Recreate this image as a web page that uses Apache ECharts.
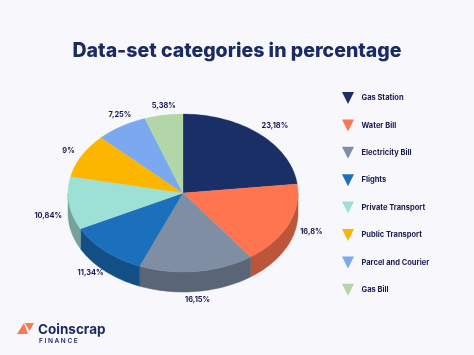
<!DOCTYPE html>
<html><head><meta charset="utf-8">
<style>html,body{margin:0;padding:0;background:#fff}#c{width:474px;height:355px}</style>
<script src="https://cdn.jsdelivr.net/npm/echarts@6/dist/echarts.min.js"></script>
</head><body><div id="c"></div>
<script>
const categories = ['Gas Station','Water Bill','Electricity Bill','Flights','Private Transport','Public Transport','Parcel and Courier','Gas Bill'];
const percentages = [23.18,16.8,16.15,11.34,10.84,9,7.25,5.38];
const tickLabels = ['23,18%','16,8%','16,15%','11,34%','10,84%','9%','7,25%','5,38%'];
const topColors = ['#1a2f66','#fe7550','#7f8ea3','#1c6fbb','#9de0d6','#fdb600','#7aa9ef','#b3d6a8'];
const sideColors = ['#12224a','#bd553a','#5a6675','#124f86','#73a39c','#b88500','#5a7bad','#83a07a'];
const labelNudge = [[0,4],[2,1],[-2,13],[1,10],[2,11],[7,3],[11,2],[4,6]];

const CX = 183, CY = 193, RX = 115, RY = 79, DEPTH = 20, INK = '#17194f';
const total = percentages.reduce((a,b)=>a+b,0);
const cum = [];
percentages.reduce((a,b,i)=>{cum[i]=[a,a+b];return a+b;},0);
const pt = (t,dy=0)=>{const a=t/total*2*Math.PI;return [CX+RX*Math.sin(a),CY-RY*Math.cos(a)+dy];};

function renderSlice(i){
  return function(params,api){
    const s=api.value(0), e=api.value(1), steps=Math.max(2,Math.ceil((e-s)*2));
    const top=[[CX,CY]];
    for(let k=0;k<=steps;k++){const t=s+(e-s)*k/steps;top.push(pt(t));}
    const fs=Math.max(s,total/4), fe=Math.min(e,total*3/4);
    const children=[];
    if(fe>fs){
      const wall=[];
      for(let k=0;k<=steps;k++){wall.push(pt(fs+(fe-fs)*k/steps));}
      for(let k=steps;k>=0;k--){wall.push(pt(fs+(fe-fs)*k/steps,DEPTH));}
      children.push({type:'polygon',shape:{points:wall},style:{fill:sideColors[i],stroke:sideColors[i],lineWidth:.5}});
    }
    children.push({type:'polygon',shape:{points:top},style:{fill:topColors[i],stroke:topColors[i],lineWidth:.3}});
    const m=(s+e)/2, a=m/total*2*Math.PI;
    children.push({type:'text',style:{
      x:CX+RX*1.2*Math.sin(a)+labelNudge[i][0],
      y:CY-RY*1.2*Math.cos(a)+labelNudge[i][1],
      text:tickLabels[i],fill:INK,font:'700 7.4px Inter, sans-serif',align:'center',verticalAlign:'middle'}});
    return {type:'group',children};
  };
}

const chart=echarts.init(document.getElementById('c'),null,{renderer:'canvas'});
chart.setOption({
  animation:false,
  backgroundColor:'#f8f8fc',
  title:{text:'Data-set categories in percentage',left:'center',top:36,
    textStyle:{color:'#1a2a63',fontFamily:'Inter, sans-serif',fontWeight:800,fontSize:19.5}},
  legend:{orient:'vertical',left:337,top:87,itemGap:15.4,itemWidth:13,itemHeight:12,
    data:categories.map(n=>({name:n,icon:'path://M0,0L10,0L5,10Z'})),
    textStyle:{color:INK,fontFamily:'Inter, sans-serif',fontWeight:700,fontSize:7.5,padding:[0,0,0,2]}},
  series:categories.map((name,i)=>({
    type:'custom',name,coordinateSystem:'none',
    itemStyle:{color:topColors[i]},
    renderItem:renderSlice(i),
    data:[cum[i]]
  })),
  graphic:[
    {type:'polygon',shape:{points:[[17,334],[24,323],[28,334]]},style:{fill:'#fb7a55'}},
    {type:'polygon',shape:{points:[[25,323],[34,323],[29.5,331]]},style:{fill:'#fb7a55'}},
    {type:'text',style:{x:38,y:323,text:'Coinscrap',fill:'#1a2a63',font:'700 13.5px Inter, sans-serif'}},
    {type:'text',style:{x:39,y:338,text:'F I N A N C E',fill:'#1a2a63',font:'600 6.5px Inter, sans-serif'}}
  ]
});
</script></body></html>
